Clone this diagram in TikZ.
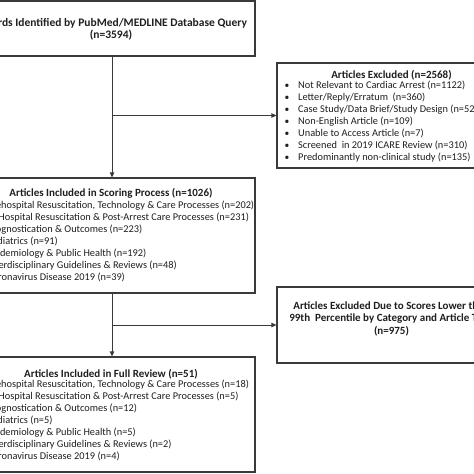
\documentclass[tikz,border=0pt]{standalone}
\usepackage{fontspec}
\setmainfont{Carlito}
\usetikzlibrary{arrows.meta}
\definecolor{linegray}{HTML}{3A3A3A}
\definecolor{txt}{HTML}{1E1E1E}
\begin{document}
\begin{tikzpicture}[x=1pt,y=-1pt,
  box/.style={draw=linegray, line width=1.2pt, inner sep=0pt, rectangle},
  conn/.style={draw=linegray, line width=1pt},
  arr/.style={conn, -{Triangle[length=5pt,width=4.5pt]}},
  ttl/.style={font=\bfseries\fontsize{11}{12.5}\selectfont, text=txt, inner sep=0pt, align=center},
  bigttl/.style={ttl, font=\bfseries\fontsize{11.5}{12.5}\selectfont},
  item/.style={font=\fontsize{10.35}{11}\selectfont, text=txt, inner sep=0pt, anchor=west, text height=7pt, text depth=2pt},
  bul/.style={font=\fontsize{9.5}{11}\selectfont, text=txt, inner sep=0pt, text height=7pt, text depth=2pt}
]
\useasboundingbox (0,0) rectangle (474,474);
\clip (0,0) rectangle (474,474);

% boxes
\node[box, minimum width=288pt, minimum height=55pt] (rec) at (111,28.5) {};
\node[box, minimum width=229pt, minimum height=105pt] (exa) at (391.5,115.5) {};
\node[box, minimum width=288pt, minimum height=115pt] (sco) at (111,235.5) {};
\node[box, minimum width=229pt, minimum height=76pt] (exb) at (391.5,325) {};
\node[box, minimum width=288pt, minimum height=115pt] (ful) at (111,414.5) {};

% top box text
\node[bigttl] (rect) at (111,23) {Records Identified by PubMed/MEDLINE Database Query};
\node[bigttl] (recn) at (111,35) {(n=3594)};

% excluded 1
\node[ttl] (exat) at (391.5,75) {Articles Excluded (n=2568)};
\foreach \t [count=\i from 0] in {Not Relevant to Cardiac Arrest (n=1122),
  Letter/Reply/Erratum\ \ (n=360),
  Case Study/Data Brief/Study Design (n=525),
  Non-English Article (n=109),
  Unable to Access Article (n=7),
  Screened\ \ in 2019 ICARE Review (n=310),
  Predominantly non-clinical study (n=135)}{
  \node[bul] (exab\i) at (287,86+12.05*\i) {•};
  \node[item] (exai\i) at (298,86+12.05*\i) {\t};
}

% scoring
\node[ttl] (scot) at (111,193) {Articles Included in Scoring Process (n=1026)};
\foreach \t [count=\i from 0] in {Prehospital Resuscitation{,} Technology \& Care Processes (n=202),
  In-Hospital Resuscitation \& Post-Arrest Care Processes (n=231),
  Prognostication \& Outcomes (n=223),
  Pediatrics (n=91),
  Epidemiology \& Public Health (n=192),
  Interdisciplinary Guidelines \& Reviews (n=48),
  Coronavirus Disease 2019 (n=39)}{
  \node[bul] (scob\i) at (-24,205.7+12*\i) {•};
  \node[item] (scoi\i) at (-13,205.7+12*\i) {\t};
}

% excluded 2
\node[ttl] (exbt) at (391.5,318.5) {Articles Excluded Due to Scores Lower than\\99th\ \ Percentile by Category and Article Type\\(n=975)};

% full review
\node[ttl] (fult) at (111,374) {Articles Included in Full Review (n=51)};
\foreach \t [count=\i from 0] in {Prehospital Resuscitation{,} Technology \& Care Processes (n=18),
  In-Hospital Resuscitation \& Post-Arrest Care Processes (n=5),
  Prognostication \& Outcomes (n=12),
  Pediatrics (n=5),
  Epidemiology \& Public Health (n=5),
  Interdisciplinary Guidelines \& Reviews (n=2),
  Coronavirus Disease 2019 (n=4)}{
  \node[bul] (fulb\i) at (-24,385+12*\i) {•};
  \node[item] (fuli\i) at (-13,385+12*\i) {\t};
}

% connectors
\coordinate (jx) at (112,0);
\coordinate (ja) at (112,115.5);
\coordinate (jb) at (112,325);
\draw[arr] (rec.south -| jx) -- (sco.north -| jx);
\draw[arr] (ja) -- (exa.west);
\draw[arr] (sco.south -| jx) -- (ful.north -| jx);
\draw[arr] (jb) -- (exb.west);
\end{tikzpicture}
\end{document}
